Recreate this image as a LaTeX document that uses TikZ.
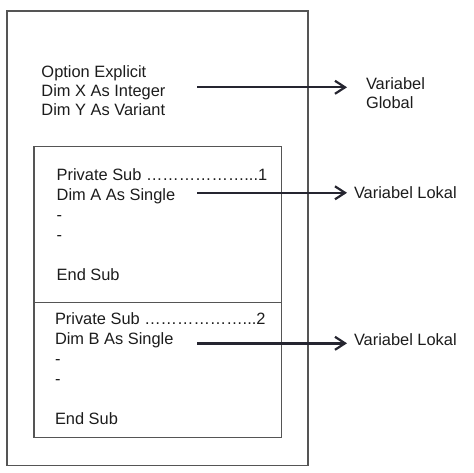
\documentclass[tikz,border=0pt]{standalone}
\usepackage{fontspec}
\setmainfont{Liberation Sans}
\usetikzlibrary{arrows.meta}
\definecolor{txt}{HTML}{1C1C1C}
\definecolor{boxc}{HTML}{555555}
\definecolor{arr}{HTML}{252530}
\begin{document}
\begin{tikzpicture}[x=1pt,y=-1pt,
  lbl/.style={anchor=base west,inner sep=0pt,outer sep=0pt,text=txt,font=\fontsize{16.4}{19}\selectfont},
  frame/.style={draw=boxc,line width=1.3pt},
  ptr/.style={draw=arr,line width=2.4pt,-{Straight Barb[length=10pt,width=13pt,line width=2.2pt]}}]
\useasboundingbox (0,0) rectangle (474,473);
% boxes
\draw[frame] (7,11) rectangle (308,465.5);
\draw[frame] (34,146.7) rectangle (281.7,437.7);
\draw[frame] (34,302.3) -- (281.7,302.3);
% global part
\node[lbl] (opt) at (41.5,78) {Option Explicit};
\node[lbl] (dimx) at (41.5,96.7) {Dim X As Integer};
\node[lbl] (dimy) at (41.5,115.2) {Dim Y As Variant};
\node[lbl] (vg1) at (366,89.3) {Variabel};
\node[lbl] (vg2) at (366,108.8) {Global};
% sub 1
\node[lbl] (ps1) at (56.7,180.7) {Private Sub ………………...1};
\node[lbl] (dima) at (56.7,200.2) {Dim A As Single};
\node[lbl] (d1a) at (56.7,220.2) {-};
\node[lbl] (d1b) at (56.7,240.2) {-};
\node[lbl] (es1) at (56.7,280.7) {End Sub};
\node[lbl] (vl1) at (354,198.5) {Variabel Lokal};
% sub 2
\node[lbl] (ps2) at (55,324.3) {Private Sub ………………...2};
\node[lbl] (dimb) at (55,344.3) {Dim B As Single};
\node[lbl] (d2a) at (55,364.3) {-};
\node[lbl] (d2b) at (55,384.3) {-};
\node[lbl] (es2) at (55,424.6) {End Sub};
\node[lbl] (vl2) at (354,345) {Variabel Lokal};
% arrows
\coordinate (a1s) at (197,87.3);
\coordinate (a1e) at (347,87.3);
\coordinate (a2s) at (197,192.8);
\coordinate (a2e) at (347,192.8);
\coordinate (a3s) at (197,343.3);
\coordinate (a3e) at (347,343.3);
\draw[ptr] (a1s) -- (a1e);
\draw[ptr] (a2s) -- (a2e);
\draw[ptr] (a3s) -- (a3e);
\end{tikzpicture}
\end{document}
